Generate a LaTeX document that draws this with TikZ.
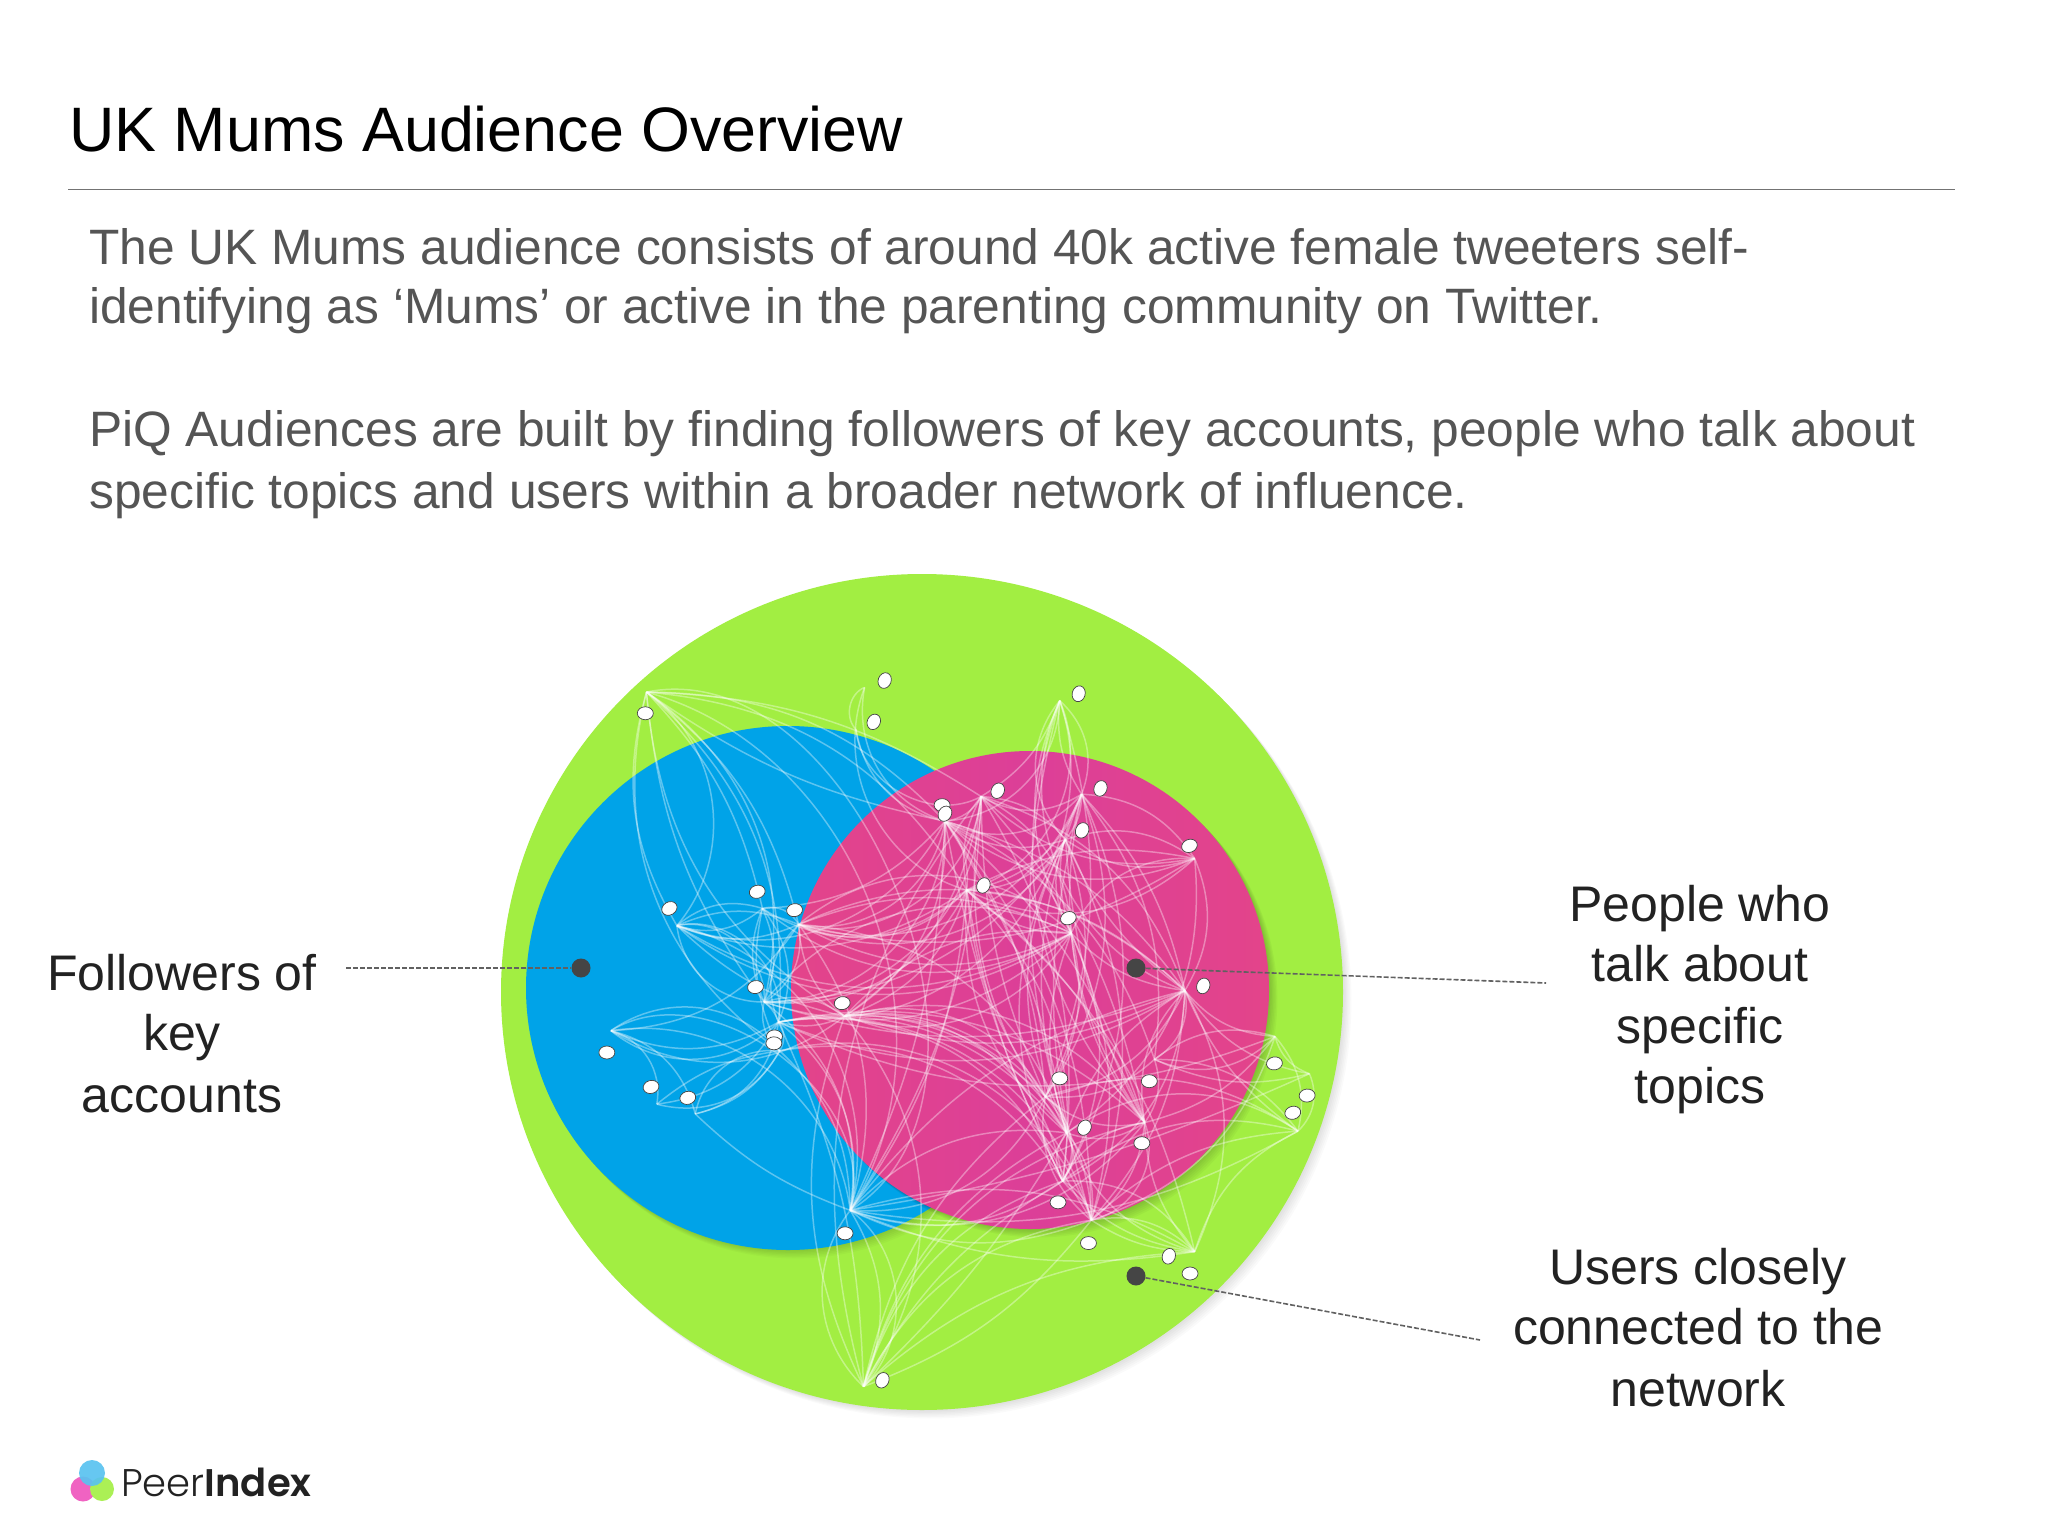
\documentclass[tikz,border=0pt]{standalone}
\usepackage{fontspec}
\setmainfont{Liberation Sans}
\newfontfamily\logofont[UprightFont=* Light,BoldFont=* SemiBold]{Poppins}
\usetikzlibrary{shapes.geometric}
\definecolor{gr}{HTML}{A2EE42}
\definecolor{bl}{HTML}{00A3E8}
\definecolor{pk}{HTML}{E3448A}
\definecolor{pkm}{HTML}{DC3F98}
\definecolor{body}{HTML}{555555}
\definecolor{ink}{HTML}{222222}
\definecolor{dotc}{HTML}{454545}
\tikzset{
 title/.style={anchor=base west,inner sep=0,font=\fontsize{62.8}{62.8}\selectfont,text=black},
 para/.style={anchor=base west,inner sep=0,font=\fontsize{49.7}{49.7}\selectfont,text=body},
 lab/.style={anchor=base,inner sep=0,font=\fontsize{50}{50}\selectfont,text=ink},
 leader/.style={draw=dotc!85!white,line width=1.6pt,dash pattern=on 5pt off 2pt},
 marker/.style={circle,fill=dotc,minimum size=19pt,inner sep=0},
 peer/.style={ellipse,draw=dotc,fill=white,line width=.7pt,minimum width=16pt,minimum height=13pt,inner sep=0},
 link/.style={draw=white,opacity=.36,line width=1.5pt}
}
\begin{document}
\begin{tikzpicture}[x=1pt,y=-1pt]
\useasboundingbox (0,0) rectangle (2048,1536);
\fill[white] (0,0) rectangle (2048,1536);
% title and text
\node[title] (t0) at (69,151) {UK Mums Audience Overview};
\coordinate (ruleL) at (68,189.5);
\coordinate (ruleR) at (1955,189.5);
\draw[draw=black!55,line width=1.3pt] (ruleL) -- (ruleR);
\node[para] (p1) at (89,264) {The UK Mums audience consists of around 40k active female tweeters self-};
\node[para] (p2) at (89,323) {identifying as ‘Mums’ or active in the parenting community on Twitter.};
\node[para] (p3) at (89,446) {PiQ Audiences are built by finding followers of key accounts, people who talk about};
\node[para] (p4) at (89,508) {specific topics and users within a broader network of influence.};
% shadows
\foreach \k in {1,...,6}{
  \fill[black,opacity=.02] (922+\k*1.4,992+\k*1.4) circle[x radius=421,y radius=418];
}
\fill[gr] (922,992) circle[x radius=421,y radius=418];
\foreach \k in {1,...,6}{
  \fill[black,opacity=.025] (788+\k*1.2,988+\k*1.4) circle[radius=262];
}
\fill[bl] (788,988) circle[radius=262];
\foreach \k in {1,...,6}{
  \fill[black,opacity=.03] (1030+\k*1.4,990+\k*1.4) circle[radius=239];
}
\shade[left color=pk,right color=pk,middle color=pkm] (1030,990) circle[radius=239];
% network
\begin{scope}[xshift=480pt,yshift=-560pt,x=.574pt,y=-.574pt]
\foreach \i/\x/\y in {1/290/230,2/670/222,3/1010/245,4/810/455,5/873/412,6/1048/408,7/1020/487,8/1245/520,9/848/575,10/1030/650,
 11/343/637,12/492/607,13/555/635,14/495/770,15/635/795,16/520/805,17/522/855,18/228/820,19/308/948,20/375/965,
 21/1228/750,22/985/935,23/1158/980,24/1022/998,25/1175/870,26/1015/1082,27/1065/1150,28/1245/1205,29/655/295,
 30/1385/830,31/1445/895,32/1425/995,33/645/1133,34/668/1440}
 {\coordinate (h\i) at (\x,\y);}
\foreach \a/\b/\c in {
 1/11/25,1/11/-12,1/14/18,1/14/-8,1/16/14,1/17/-18,1/13/10,1/4/12,1/4/-6,1/9/14,1/33/28,1/33/42,1/12/8,1/5/8,1/15/-14,
 29/2/30,29/4/-18,2/4/-22,29/5/-30,2/9/-25,
 3/4/22,3/5/10,3/6/-10,3/7/-22,3/9/26,3/10/-14,3/21/-25,3/24/-8,3/22/10,3/23/-16,3/15/28,3/6/18,
 11/12/15,11/12/-15,11/13/12,11/13/-12,11/14/28,11/14/-22,11/9/-14,11/10/-18,11/4/-22,11/16/30,11/15/-8,
 12/13/20,12/14/12,12/14/-12,12/16/16,12/17/-10,12/9/-20,12/10/-18,12/4/-12,
 13/4/-24,13/5/-26,13/9/-18,13/10/-14,13/7/-22,13/8/-12,13/14/18,13/16/-18,13/21/18,13/15/-12,13/24/18,13/6/-22,13/10/12,
 14/15/14,14/16/8,14/17/-16,14/4/-24,14/9/-18,14/21/-10,14/10/-16,14/7/-14,14/5/-25,
 15/4/-16,15/5/-12,15/9/-14,15/21/-12,15/22/20,15/24/16,15/23/18,15/26/24,15/27/26,15/16/10,15/10/-20,15/34/20,
 16/17/18,16/22/14,16/24/16,16/23/14,16/26/20,16/33/16,16/21/-14,16/27/22,16/30/-12,
 17/33/12,17/19/20,17/20/-22,17/19/-8,17/20/12,17/26/18,17/18/-22,17/27/22,
 18/19/22,18/20/16,18/16/-14,18/16/-22,18/15/-18,18/33/24,18/33/36,18/13/-14,
 19/16/-14,20/16/-18,20/33/-6,
 4/5/-14,4/6/-20,4/7/-14,4/8/-16,4/9/12,4/10/14,4/21/10,4/22/8,4/24/6,4/23/8,4/26/-4,4/25/12,4/27/10,
 5/6/-16,5/7/12,5/8/-14,5/9/-10,5/10/16,5/21/14,5/22/-6,5/24/-12,5/23/8,5/26/10,5/34/-14,
 6/7/10,6/8/14,6/9/16,6/10/-12,6/21/8,6/22/14,6/24/-10,6/23/-12,6/26/14,6/27/-8,6/25/12,
 7/8/14,7/8/-14,7/9/14,7/10/-14,7/21/-8,7/22/12,7/24/-14,7/23/-6,7/27/12,7/26/-14,
 8/9/18,8/10/-18,8/21/14,8/24/16,8/9/-10,
 9/10/-12,9/21/10,9/22/-8,9/24/-14,9/23/8,9/26/14,9/27/-6,9/28/10,
 10/21/-10,10/22/12,10/24/-10,10/23/-8,10/26/14,10/27/10,10/15/-14,10/11/16,10/13/-22,10/14/-20,
 21/22/14,21/24/-10,21/23/-14,21/26/16,21/27/10,21/30/-12,21/31/-12,21/32/-8,21/25/18,
 22/23/-14,22/24/16,22/26/22,22/27/-16,22/33/18,22/34/-10,22/25/-12,22/32/14,
 23/24/14,23/26/-14,23/27/12,23/28/-10,23/33/18,23/25/-14,23/34/-16,23/30/-10,
 24/26/18,24/26/-18,24/27/12,24/33/-14,24/34/-12,24/32/18,24/28/-14,
 25/30/-18,25/30/14,25/31/-10,25/32/14,
 26/27/14,26/28/-10,26/33/14,26/32/14,26/34/-14,
 27/28/14,27/28/-8,27/33/12,27/34/-14,27/32/10,27/30/-14,27/23/-26,
 28/21/-14,28/34/-10,28/33/-12,28/33/8,28/32/12,28/26/-16,
 30/31/-14,30/32/14,31/32/18,31/33/4,32/33/10,
 33/34/14,33/34/-22,33/34/26,33/4/-6,33/9/-8,33/13/-14,33/14/-16,33/11/-24,33/21/10,33/5/-8,
 34/27/-8,34/26/8,34/24/-4,34/15/12,34/16/-6}
 {\pgfmathsetmacro\bb{\c*1.9}\draw[link] (h\a) to[bend left=\bb] (h\b);}
\foreach \i/\x/\y/\r in {1/288/267/0,2/705/210/70,3/1043/233/75,4/686/282/65,5/805/427/0,6/810/442/60,7/902/402/65,8/1081/398/70,
 9/1049/471/65,10/1236/498/20,11/877/567/65,12/1025/624/20,13/330/607/30,14/483/578/15,15/548/610/10,16/480/744/10,17/631/772/10,
 18/513/830/0,19/512/842/0,20/221/858/0,21/298/918/15,22/362/937/15,23/1260/742/70,24/1010/903/0,25/1166/908/0,26/1053/989/60,
 27/1153/1016/0,28/1007/1119/0,29/1060/1190/0,30/1200/1213/70,31/1237/1243/0,32/1384/877/10,33/1441/933/5,34/1416/963/15,35/636/1173/0,36/701/1429/65}
 {\node[peer,rotate=\r] (n\i) at (\x,\y) {};}
\end{scope}
% markers and leaders
\node[marker] (m1) at (581,968) {};
\node[marker] (m2) at (1136,968) {};
\node[marker] (m3) at (1136,1276) {};
\coordinate (e1) at (346,968);
\coordinate (e2) at (1546,983);
\coordinate (e3) at (1480,1340);
\draw[leader] (e1) -- (m1);
\draw[leader] (m2) -- (e2);
\draw[leader] (m3) -- (e3);
% labels
\node[lab] (a1) at (182,990) {Followers of};
\node[lab] (a2) at (182,1050) {key};
\node[lab] (a3) at (182,1112) {accounts};
\node[lab] (b1) at (1700,921) {People who};
\node[lab] (b2) at (1700,981) {talk about};
\node[lab] (b3) at (1700,1043) {specific};
\node[lab] (b4) at (1700,1103) {topics};
\node[lab] (c1) at (1698,1284) {Users closely};
\node[lab] (c2) at (1698,1344) {connected to the};
\node[lab] (c3) at (1698,1406) {network};
% logo
\fill[fill=pk!70!magenta!75!white] (83,1489) circle[radius=12.5];
\fill[fill=gr!90!white] (102,1489) circle[radius=12];
\fill[fill=bl!65!white,opacity=.92] (92,1473) circle[radius=13];
\node[anchor=base west,inner sep=0,font=\logofont\fontsize{38.5}{38.5}\selectfont,text=ink] (logo) at (121,1496) {Peer\textbf{Index}};
\end{tikzpicture}
\end{document}
